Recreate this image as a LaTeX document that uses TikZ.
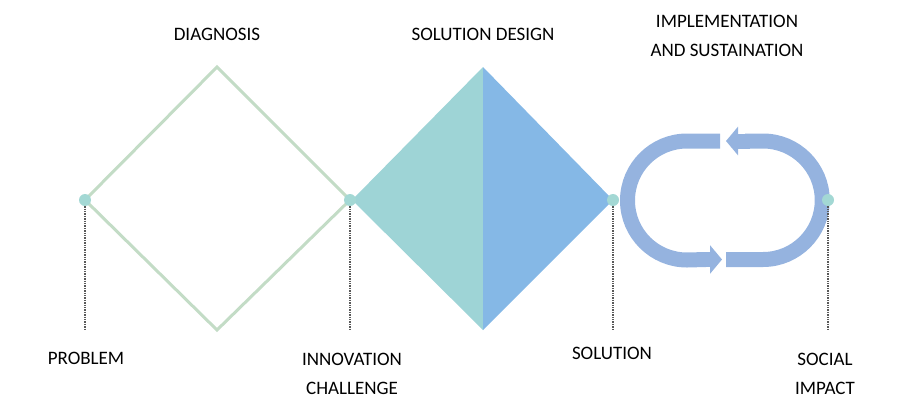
\documentclass[tikz,border=0pt]{standalone}
\usepackage{fontspec}
\setmainfont{Carlito}
\usetikzlibrary{arrows.meta}
\definecolor{dgreen}{HTML}{C3DCC6}
\definecolor{teal1}{HTML}{9ED4D6}
\definecolor{blue1}{HTML}{85B8E6}
\definecolor{loopc}{HTML}{95B3DF}
\definecolor{dotc}{HTML}{A3D8D4}
\tikzset{
 lbl/.style={font=\fontsize{19}{29}\selectfont, align=center, text=black},
 dotn/.style={circle, fill=dotc, minimum size=12pt, inner sep=0pt},
 drop/.style={densely dotted, line width=1.4pt, gray!70!black},
 band/.style={loopc, line width=15pt},
 head/.style={-{Triangle[width=28pt,length=12pt]}}
}
\begin{document}
\begin{tikzpicture}[x=1pt,y=-1pt]
\useasboundingbox (0,0) rectangle (900,408);
% diamonds
\draw[dgreen, line width=3pt, line join=miter] (85,200) -- (217,67) -- (350,200) -- (217,330) -- cycle;
\fill[teal1] (352,200) -- (483,67) -- (483,330) -- cycle;
\fill[blue1] (483,67) -- (613,200) -- (483,330) -- cycle;
% loop
\draw[band] (720,141) -- (687,141) arc[start angle=-90, end angle=-270, radius=59.5] -- (706,259.5);
\draw[band, head] (700,259.5) -- (722,259.5);
\draw[band] (726,259.5) -- (763,259.5) arc[start angle=90, end angle=-90, radius=59.25] -- (745,141);
\draw[band, head] (750,141) -- (726,141);
% dots
\node[dotn] (p) at (85,200) {};
\node[dotn] (ic) at (350,200) {};
\node[dotn] (s) at (613,200) {};
\node[dotn] (si) at (828,200) {};
\coordinate (pb) at (85,330);
\coordinate (icb) at (350,330);
\coordinate (sb) at (613,330);
\coordinate (sib) at (828,330);
\draw[drop] (p.south) -- (pb);
\draw[drop] (ic.south) -- (icb);
\draw[drop] (s.south) -- (sb);
\draw[drop] (si.south) -- (sib);
% labels
\node[lbl] (l1) at (217,34) {DIAGNOSIS};
\node[lbl] (l2) at (483,34) {SOLUTION DESIGN};
\node[lbl] (l3) at (727,36) {IMPLEMENTATION\\AND SUSTAINATION};
\node[lbl] (l4) at (86,358) {PROBLEM};
\node[lbl] (l5) at (352,374) {INNOVATION\\CHALLENGE};
\node[lbl] (l6) at (612,353) {SOLUTION};
\node[lbl] (l7) at (825,374) {SOCIAL\\IMPACT};
\end{tikzpicture}
\end{document}
